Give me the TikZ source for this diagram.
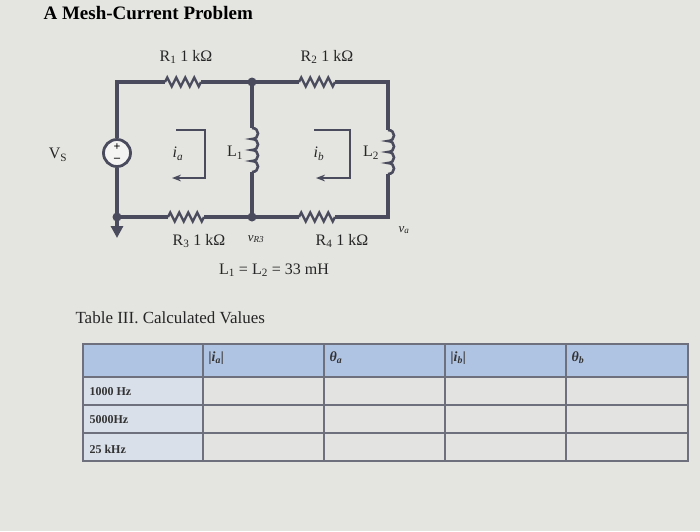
\documentclass[tikz,border=0pt]{standalone}
\usepackage{fontspec}
\setmainfont{Liberation Serif}
\usetikzlibrary{decorations.pathmorphing,arrows.meta}
\definecolor{bg}{HTML}{E4E4E0}
\definecolor{wire}{HTML}{4A4C5E}
\definecolor{hdr}{HTML}{AFC3E2}
\definecolor{fc}{HTML}{D9E0EA}
\definecolor{cell}{HTML}{E3E3E1}
\tikzset{
 w/.style={draw=wire,line width=3.2pt},
 res/.style={w,line width=2.4pt,decorate,decoration={zigzag,segment length=9pt,amplitude=4.5pt}},
 ind/.style={draw=wire,line width=2.6pt},
 lbl/.style={font=\fontsize{16}{16}\selectfont,text=black!85},
 dot/.style={circle,fill=wire,inner sep=0pt,minimum size=9pt},
 tb/.style={font=\bfseries\fontsize{12}{12}\selectfont,anchor=west,text=black!80},
 th/.style={tb,font=\bfseries\itshape\fontsize{14}{14}\selectfont},
 marr/.style={draw=wire,line width=2.6pt,-{Stealth[length=9pt]}}
}
\begin{document}
\begin{tikzpicture}[x=1pt,y=-1pt]
\fill[bg] (0,0) rectangle (700,531);
\node[anchor=west,font=\bfseries\fontsize{19}{19}\selectfont] (title) at (40,13) {A Mesh-Current Problem};
% circuit
\coordinate (tl) at (117,82); \coordinate (tm) at (252,82); \coordinate (tr) at (388,82);
\coordinate (bl) at (117,217); \coordinate (bm) at (252,217); \coordinate (br) at (388,217);
\coordinate (r1a) at (165,82); \coordinate (r1b) at (201,82);
\coordinate (r2a) at (299,82); \coordinate (r2b) at (335,82);
\coordinate (r3a) at (168,217); \coordinate (r3b) at (204,217);
\coordinate (r4a) at (299,217); \coordinate (r4b) at (335,217);
\coordinate (l1a) at (252,128); \coordinate (l1b) at (252,172);
\coordinate (l2a) at (388,130); \coordinate (l2b) at (388,174);
\node[circle,draw=wire,line width=2.8pt,minimum size=27pt,inner sep=0pt,fill=white!60!bg] (vs) at (117,153) {};
\node[font=\bfseries\fontsize{12}{12}\selectfont,inner sep=0pt] (plus) at (117,147) {+};
\node[font=\bfseries\fontsize{12}{12}\selectfont,inner sep=0pt] (minus) at (117,160) {\textendash};
\draw[w] (vs.north) -- (tl) -- (r1a); \draw[res] (r1a) -- (r1b); \draw[w] (r1b) -- (tm) -- (r2a);
\draw[res] (r2a) -- (r2b); \draw[w] (r2b) -- (tr) -- (l2a);
\draw[w] (l2b) -- (br) -- (r4b);
\draw[res] (r4b) -- (r4a); \draw[w] (r4a) -- (bm) -- (r3b); \draw[res] (r3b) -- (r3a); \draw[w] (r3a) -- (bl) -- (vs.south);
\draw[w] (tm) -- (l1a); \draw[w] (l1b) -- (bm);
\draw[ind] (l1a) .. controls (260,128) and (260,139) .. (252,139) .. controls (260,139) and (260,150) .. (252,150) .. controls (260,150) and (260,161) .. (252,161) .. controls (260,161) and (260,172) .. (l1b);
\draw[ind] (l2a) .. controls (396,130) and (396,141) .. (388,141) .. controls (396,141) and (396,152) .. (388,152) .. controls (396,152) and (396,163) .. (388,163) .. controls (396,163) and (396,174) .. (l2b);
\node[dot] (d1) at (tm) {}; \node[dot] (d2) at (bm) {}; \node[dot] (d3) at (bl) {};
\coordinate (g) at (117,238);
\draw[w,-{Triangle[length=12pt,width=12pt]}] (bl) -- (g);
% mesh arrows
\coordinate (ma1) at (176,130); \coordinate (ma2) at (205,130); \coordinate (ma3) at (205,178); \coordinate (ma4) at (172,178);
\draw[marr] (ma1) -- (ma2) -- (ma3) -- (ma4);
\coordinate (mb1) at (314,130); \coordinate (mb2) at (350,130); \coordinate (mb3) at (350,178); \coordinate (mb4) at (316,178);
\draw[marr] (mb1) -- (mb2) -- (mb3) -- (mb4);
\node[lbl] (ia) at (178,154) {\textit{i}\textsubscript{\textit{a}}};
\node[lbl] (ib) at (319,154) {\textit{i}\textsubscript{\textit{b}}};
\node[lbl] (R1) at (186,57) {R\textsubscript{1} 1 kΩ};
\node[lbl] (R2) at (327,57) {R\textsubscript{2} 1 kΩ};
\node[lbl] (R3) at (199,241) {R\textsubscript{3} 1 kΩ};
\node[lbl] (R4) at (342,241) {R\textsubscript{4} 1 kΩ};
\node[lbl] (Vs) at (58,155) {V\textsubscript{S}};
\node[lbl] (L1) at (235,153) {L\textsubscript{1}};
\node[lbl] (L2) at (371,153) {L\textsubscript{2}};
\node[lbl,font=\itshape\fontsize{13}{13}\selectfont] (vr3) at (256,239) {v\textsubscript{R3}};
\node[lbl,font=\itshape\fontsize{13}{13}\selectfont] (va) at (404,230) {v\textsubscript{a}};
\node[lbl] (eq) at (274,270) {L\textsubscript{1} = L\textsubscript{2} = 33 mH};
\node[anchor=west,font=\fontsize{17}{17}\selectfont,text=black!85] (cap) at (72,318) {Table III. Calculated Values};
% table
\fill[hdr] (83,344) rectangle (688,377);
\fill[fc] (83,377) rectangle (203,461);
\fill[cell] (203,377) rectangle (688,461);
\draw[wire!80,line width=1.2pt] (83,344) rectangle (688,461);
\foreach \y in {377,405,433} \draw[wire!80,line width=1.2pt] (83,\y) -- (688,\y);
\foreach \x in {203,324,445,566} \draw[wire!80,line width=1.2pt] (\x,344) -- (\x,461);
\node[th] (h1) at (205,358) {|i\textsubscript{a}|};
\node[th] (h2) at (326,358) {θ\textsubscript{a}};
\node[th] (h3) at (447,358) {|i\textsubscript{b}|};
\node[th] (h4) at (568,358) {θ\textsubscript{b}};
\node[tb] (c1) at (86,392) {1000 Hz};
\node[tb] (c2) at (86,420) {5000Hz};
\node[tb] (c3) at (86,449) {25 kHz};
\end{tikzpicture}
\end{document}
